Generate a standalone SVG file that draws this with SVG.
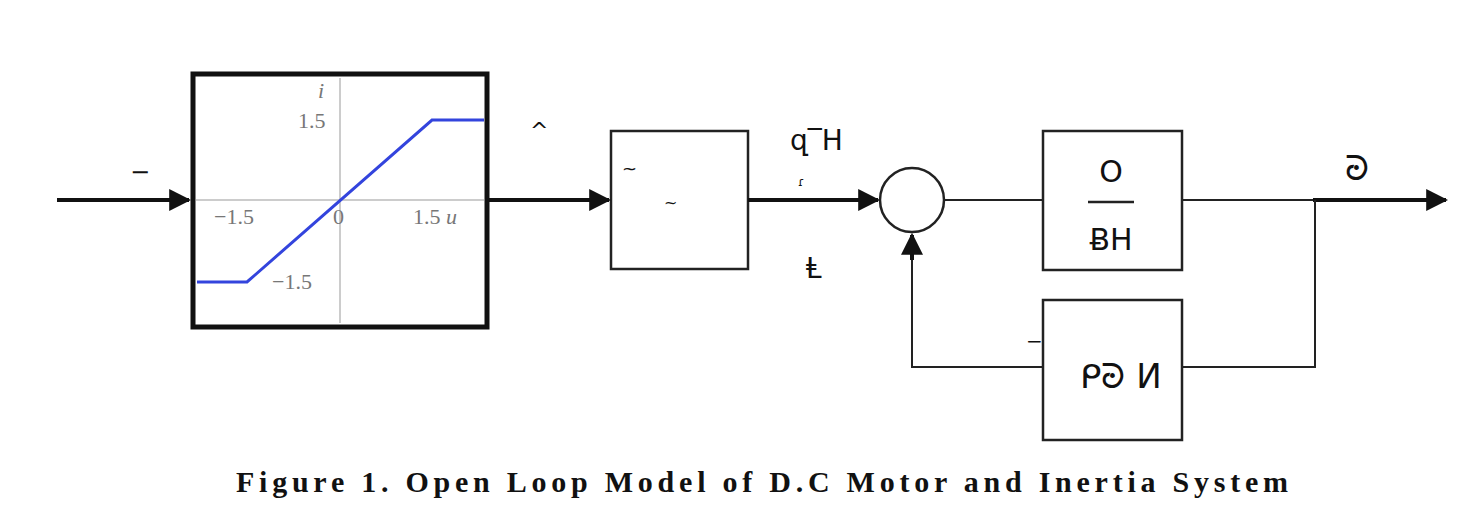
<svg xmlns="http://www.w3.org/2000/svg" width="1468" height="518" viewBox="0 0 1468 518">
<style>
.b{fill:none;stroke:#222;stroke-width:2.5}
.t{font-family:"DejaVu Sans",sans-serif;fill:#111}
.g{font-family:"Liberation Serif",serif;fill:#777;font-size:22px}
.th{stroke:#111;stroke-width:4;fill:none}
.tn{stroke:#222;stroke-width:2;fill:none}
</style>
<defs>
<marker id="A" viewBox="0 0 10 10" refX="9" refY="5" markerWidth="22" markerHeight="22" orient="auto" markerUnits="userSpaceOnUse"><path d="M0,0L10,5L0,10z" fill="#111"/></marker></defs>
<rect width="1468" height="518" fill="#fff"/>
<g id="sat">
<rect x="193" y="74" width="294" height="253" fill="#fff" stroke="#111" stroke-width="5"/>
<line x1="196" y1="200" x2="484" y2="200" stroke="#bbb" stroke-width="1.5"/>
<line x1="340" y1="78" x2="340" y2="323" stroke="#bbb" stroke-width="1.5"/>
<polyline points="197,282 247,282 432,120 484,120" fill="none" stroke="#3344dd" stroke-width="3"/>
<text class="g" x="318" y="98" font-style="italic">i</text>
<text class="g" x="298" y="128">1.5</text>
<text class="g" x="214" y="224">−1.5</text>
<text class="g" x="333" y="224">0</text>
<text class="g" x="413" y="224">1.5 <tspan font-style="italic">u</tspan></text>
<text class="g" x="272" y="289">−1.5</text>
</g>
<g id="amp"><rect class="b" x="611" y="131" width="137" height="138"/>
<text class="t" x="622" y="175" font-size="18">~</text><text class="t" x="664" y="208" font-size="16">~</text></g>
<g id="sum"><circle class="b" cx="912" cy="200" r="32"/></g>
<g id="inertia"><rect class="b" x="1043" y="131" width="139" height="139"/>
<text class="t" x="1111" y="182" font-size="30" text-anchor="middle">O</text>
<line x1="1088" y1="202" x2="1134" y2="202" stroke="#222" stroke-width="2.5"/>
<text class="t" x="1111" y="250" font-size="30" text-anchor="middle">ɃH</text></g>
<g id="fb"><rect class="b" x="1043" y="300" width="139" height="140"/>
<text class="t" x="1080" y="388" font-size="34">ᑭᘒ ⵍ</text>
<text class="t" x="1026" y="348" font-size="20">−</text></g>
<g id="connectors">
<line class="th" x1="57" y1="200" x2="189" y2="200" marker-end="url(#A)"/>
<line class="th" x1="488" y1="200" x2="609" y2="200" marker-end="url(#A)"/>
<line class="th" x1="748" y1="200" x2="878" y2="200" marker-end="url(#A)"/>
<line class="tn" x1="944" y1="200" x2="1043" y2="200"/>
<line class="tn" x1="1182" y1="200" x2="1315" y2="200"/>
<line class="th" x1="1313" y1="200" x2="1446" y2="200" marker-end="url(#A)"/>
<polyline class="tn" points="1315,200 1315,367 1182,367"/>
<polyline class="tn" points="1043,367 912,367 912,236"/>
<line class="th" x1="912" y1="260" x2="912" y2="235" marker-end="url(#A)"/>
</g>
<g id="labels" class="t">
<text x="130" y="180" font-size="24">−</text>
<text x="530" y="138" font-size="22">^</text>
<text x="790" y="150" font-size="28">զ‾H</text>
<text x="798" y="186" font-size="12">ɾ</text>
<text x="806" y="278" font-size="28">Ⱡ</text>
<text x="1345" y="180" font-size="34">ᘒ</text>
</g>
<text x="236" y="492" textLength="1052" lengthAdjust="spacing" font-family="Liberation Serif,serif" font-size="30" font-weight="bold" fill="#111">Figure 1. Open Loop Model of D.C Motor and Inertia System</text>
</svg>
